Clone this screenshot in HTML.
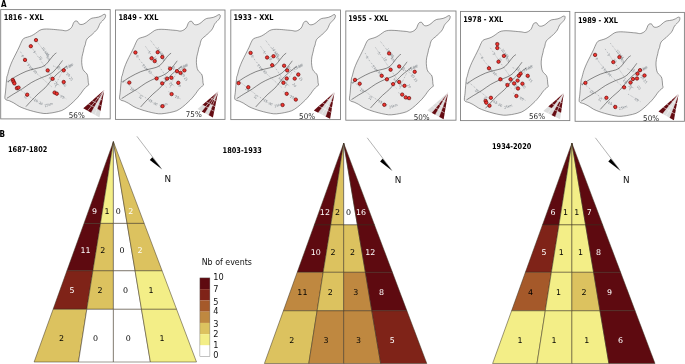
<!DOCTYPE html>
<html lang="en"><head><meta charset="utf-8"><title>Figure</title>
<style>html,body{margin:0;padding:0;background:#fff}svg{display:block}text{font-family:"DejaVu Sans Condensed","DejaVu Sans","Liberation Sans",sans-serif}.n{font-family:"DejaVu Sans","Liberation Sans",sans-serif}.t{font-size:3.4px;fill:#7d848a}</style></head><body>
<svg width="685" height="364" viewBox="0 0 685 364">
<rect width="685" height="364" fill="#fff"/>
<defs>
<g id="map">
<path d="M105.1,14.4C104.7,14.2 104.1,14.3 103.4,14.6C102.8,14.9 102,15.6 101.2,16C100.4,16.4 99.5,16.8 98.5,17.1C97.5,17.4 96.3,17.5 95.2,17.7C94.1,17.9 92.9,17.8 91.9,18.2C90.9,18.6 90,19.2 89.1,19.9C88.2,20.6 87.3,21.6 86.4,22.3C85.5,23 84.5,23.6 83.6,24C82.7,24.4 81.7,24.6 80.9,24.5C80.1,24.4 79.5,24.2 78.9,23.7C78.4,23.2 78,21.9 77.6,21.5C77.2,21.1 76.8,21 76.3,21C75.8,21 75.3,20.9 74.8,21.3C74.3,21.7 73.9,22.3 73.4,23.2C73,24.1 72.6,25.6 72.1,26.5C71.6,27.4 71.1,28.1 70.4,28.7C69.7,29.3 68.6,29.9 67.7,30.3C66.8,30.7 66,30.8 65.2,30.8C64.4,30.8 64,30.5 62.7,30.3C61.5,30.1 59.9,30 57.7,29.8C55.5,29.6 51.8,29.2 49.5,29.1C47.2,29 45.6,28.9 44,29.1C42.4,29.3 41.3,29.5 39.9,30.2C38.5,30.9 37.1,32.3 35.7,33.2C34.3,34.1 33,35.1 31.6,35.7C30.2,36.4 28.8,36.7 27.5,37.1C26.2,37.5 24.9,37.7 24,38.3C23.1,38.9 22.8,39.3 22,40.8C21.2,42.2 20.2,44.8 19.2,47C18.2,49.2 16.9,51.6 15.8,53.9C14.7,56.2 13.4,58.4 12.4,60.7C11.4,63 10.4,65.2 9.6,67.6C8.8,70 8,73.5 7.6,75C7.1,76.5 7.1,75.5 6.9,76.9C6.7,78.4 6.4,81.2 6.2,83.7C6,86.2 5.7,89.5 5.5,92C5.3,94.5 4.4,97.4 5.1,98.9C5.8,100.4 8.2,100.2 9.6,100.9C11,101.6 12.1,102 13.7,102.9C15.3,103.8 17.4,105.4 19.2,106.4C21,107.4 22.9,108 24.7,108.7C26.5,109.4 28.1,109.9 30.2,110.5C32.3,111.1 34.8,111.8 37.1,112.3C39.4,112.8 41.9,113.3 43.9,113.5C45.9,113.7 47.6,113.4 49.4,113.2C51.2,113 52.8,112.8 54.9,112.3C57,111.8 59.7,111.4 61.8,110.5C63.9,109.6 65.8,108.3 67.7,106.8C69.7,105.3 71.9,103.2 73.5,101.7C75.1,100.2 76,99.3 77.3,97.9C78.6,96.5 80.1,94.5 81.2,93.1C82.3,91.6 83,90.3 84,89.2C85,88.1 86.1,87 86.9,86.3C87.7,85.6 88.6,85.4 88.8,84.8C89,84.2 88.4,83.7 88.3,82.5C88.2,81.3 88.1,79.2 87.9,77.7C87.7,76.2 87.6,74.9 86.9,73.8C86.2,72.7 84.7,72 84,71C83.3,70 82.9,69.5 82.5,68.1C82.1,66.6 81.8,64.2 81.7,62.3C81.6,60.4 81.8,58.4 82.1,56.5C82.4,54.6 83.2,52.3 83.5,50.8C83.8,49.3 83.9,48.4 84.2,47.4C84.5,46.4 85,45.5 85.3,44.6C85.6,43.7 85.5,42.8 85.8,41.9C86.1,41 86.4,39.9 86.9,39.1C87.5,38.3 88.3,37.6 89.1,36.9C89.9,36.2 91,35.5 91.9,34.7C92.8,33.9 93.8,32.8 94.6,32C95.4,31.2 96.1,30.6 96.8,29.8C97.5,29 98,27.9 98.5,27C99,26.1 99.1,25.1 99.6,24.3C100,23.5 100.6,22.8 101.2,22.1C101.8,21.4 102.8,20.6 103.4,19.9C104.1,19.2 104.7,18.4 105.1,17.7C105.5,17 105.6,16.1 105.6,15.5C105.6,14.9 105.5,14.6 105.1,14.4Z" fill="#e9e9e9" stroke="#454545" stroke-width="0.55" stroke-linejoin="round"/>
<polyline points="36,40.3 43,49.5 50.2,59.1" fill="none" stroke="#8f959b" stroke-width="0.55" stroke-dasharray="1.4 1 0.5 1"/>
<polyline points="30.8,46.1 43.4,64.6 47.6,70.6 52.8,78.4 59.7,86.1" fill="none" stroke="#8f959b" stroke-width="0.55" stroke-dasharray="1.4 1 0.5 1"/>
<polyline points="20.5,51.7 25.1,59.9 36.6,73.3 44,80 51.9,87" fill="none" stroke="#8f959b" stroke-width="0.55" stroke-dasharray="1.4 1 0.5 1"/>
<polyline points="8.7,80.1 18,88 26.8,94.8 41.5,104.3" fill="none" stroke="#8f959b" stroke-width="0.55" stroke-dasharray="1.4 1 0.5 1"/>
<polyline points="53.1,65.9 58,68 64,70.6 70,75" fill="none" stroke="#8f959b" stroke-width="0.55" stroke-dasharray="1.4 1 0.5 1"/>
<polyline points="53.7,91.3 60,95 66.6,99.1" fill="none" stroke="#8f959b" stroke-width="0.55" stroke-dasharray="1.4 1 0.5 1"/>
<polyline points="62,72 57,82 55,88" fill="none" stroke="#8f959b" stroke-width="0.55" stroke-dasharray="1.4 1 0.5 1"/>
<text class="t" transform="translate(41.5,48) rotate(55)">10 km</text>
<text class="t" transform="translate(45.5,53.5) rotate(55)">15</text>
<text class="t" transform="translate(38.5,57) rotate(55)">10</text>
<text class="t" transform="translate(27,65) rotate(50)">5 km</text>
<text class="t" transform="translate(33,71) rotate(48)">10</text>
<text class="t" transform="translate(45,107.2) rotate(-18)">25km</text>
<text class="t" transform="translate(26,99) rotate(-60)">25</text>
<text class="t" transform="translate(38.5,103.6) rotate(30)">20</text>
<text class="t" transform="translate(64.5,70) rotate(-25)">15 km</text>
<text class="t" transform="translate(66,74.5) rotate(40)">20</text>
<text class="t" transform="translate(58.5,70) rotate(-55)">10</text>
<text class="t" transform="translate(60,97) rotate(30)">25</text>
<text class="t" transform="translate(54,83) rotate(60)">15</text>
<text class="t" transform="translate(48.5,78) rotate(50)">km</text>
<text class="t" transform="translate(8,83) rotate(-50)">5</text>
<text class="t" transform="translate(67,68.5) rotate(-30)">5 km</text>
<text class="t" transform="translate(69,78) rotate(50)">25</text>
<text class="t" transform="translate(62.5,84) rotate(55)">20</text>
<text class="t" transform="translate(46,57) rotate(55)">km</text>
<text class="t" transform="translate(33,52) rotate(52)">5</text>
<text class="t" transform="translate(21,56) rotate(55)">0</text>
<text class="t" transform="translate(15,89) rotate(35)">10</text>
<text class="t" transform="translate(33.5,100.5) rotate(32)">15</text>
<path d="M7.8,81.8C9.1,80.9 12.6,78.3 15.6,76.6C18.6,74.9 22.8,72.7 26,71.4C29.2,70.1 32,69.5 34.6,68.8C37.2,68.1 39.6,67.8 41.5,67.1C43.4,66.4 44.4,65.8 45.9,64.5C47.4,63.2 48.9,60.9 50.2,59.3C51.5,57.7 52.7,56.1 53.7,55C54.7,53.9 56,53.2 56.4,52.9" fill="none" stroke="#1e1e1e" stroke-width="0.5"/>
<path d="M6.9,98.3C8.1,97.6 11.2,95.5 13.8,93.9C16.4,92.3 19.6,90.6 22.5,88.7C25.4,86.8 28.3,84.4 31.2,82.7C34.1,81 36.9,79.7 39.8,78.4C42.7,77.1 46.2,76.1 48.5,74.9C50.8,73.7 52,73 53.7,71.4C55.4,69.8 57.3,67.2 58.8,65.4C60.3,63.6 61.9,61.3 62.5,60.5" fill="none" stroke="#1e1e1e" stroke-width="0.5"/>
<path d="M26,106.6C26.9,105.6 29.2,103 31.2,100.9C33.2,98.8 35.8,96.1 38.1,93.9C40.4,91.7 43.1,89.8 45,87.9C46.9,86 48,84.3 49.3,82.7C50.6,81.1 51.5,79.9 52.8,78.4C54.1,77 55.5,75.5 57.1,74C58.7,72.5 60.7,71 62.3,69.7C63.9,68.4 65.9,66.8 66.6,66.2" fill="none" stroke="#1e1e1e" stroke-width="0.5"/>
</g>
</defs>
<text x="0.9" y="6.8" font-size="8" font-weight="bold" fill="#000">A</text>
<text x="-0.4" y="136.7" font-size="8" font-weight="bold" fill="#000">B</text>
<g transform="translate(0,0)">
<rect x="0.7" y="9.6" width="109.5" height="109.3" fill="#fff" stroke="#808080" stroke-width="0.9"/>
<use href="#map"/>
<circle cx="25" cy="59.9" r="1.7" fill="#f2352f" stroke="#650909" stroke-width="0.7"/>
<circle cx="47.7" cy="70.4" r="1.7" fill="#f2352f" stroke="#650909" stroke-width="0.7"/>
<circle cx="63.7" cy="70.3" r="1.7" fill="#f2352f" stroke="#650909" stroke-width="0.7"/>
<circle cx="52.6" cy="78.8" r="1.7" fill="#f2352f" stroke="#650909" stroke-width="0.7"/>
<circle cx="63.7" cy="82" r="1.7" fill="#f2352f" stroke="#650909" stroke-width="0.7"/>
<circle cx="12.8" cy="79.9" r="1.7" fill="#f2352f" stroke="#650909" stroke-width="0.7"/>
<circle cx="13.6" cy="81.6" r="1.7" fill="#f2352f" stroke="#650909" stroke-width="0.7"/>
<circle cx="14.4" cy="83.4" r="1.7" fill="#f2352f" stroke="#650909" stroke-width="0.7"/>
<circle cx="16.9" cy="88.1" r="1.7" fill="#f2352f" stroke="#650909" stroke-width="0.7"/>
<circle cx="18.5" cy="87.6" r="1.7" fill="#f2352f" stroke="#650909" stroke-width="0.7"/>
<circle cx="27.2" cy="94.7" r="1.7" fill="#f2352f" stroke="#650909" stroke-width="0.7"/>
<circle cx="54.6" cy="92.6" r="1.7" fill="#f2352f" stroke="#650909" stroke-width="0.7"/>
<circle cx="56.8" cy="93.7" r="1.7" fill="#f2352f" stroke="#650909" stroke-width="0.7"/>
<circle cx="36" cy="40.1" r="1.7" fill="#f2352f" stroke="#650909" stroke-width="0.7"/>
<circle cx="30.8" cy="46.2" r="1.7" fill="#f2352f" stroke="#650909" stroke-width="0.7"/>
<text x="3.7" y="20.2" font-size="7.95" font-weight="bold" fill="#000" textLength="40" lengthAdjust="spacingAndGlyphs">1816 - XXL</text>
</g>
<text class="n" x="68.8" y="117.8" font-size="7.9" fill="#2a2a2a" textLength="16" lengthAdjust="spacingAndGlyphs">56%</text>
<polygon points="104.2,90.1 83.3,108.2 99.5,117.4" fill="#dcdcdc"/>
<polygon points="104.2,90.1 104.2,90.1 98.1,97.7 96.4,96.8" fill="#650c12"/>
<polygon points="104.2,90.1 104.2,90.1 99.4,98.5 98.1,97.7" fill="#650c12"/>
<polygon points="104.2,90.1 104.2,90.1 102.5,100.2 100.7,99.3" fill="#650c12"/>
<polygon points="96.4,96.8 98.1,97.7 94.5,102.2 92.0,100.7" fill="#650c12"/>
<polygon points="98.1,97.7 99.4,98.5 96.6,103.3 94.5,102.2" fill="#650c12"/>
<polygon points="100.7,99.3 102.5,100.2 101.4,106.1 98.7,104.6" fill="#650c12"/>
<polygon points="92.0,100.7 94.5,102.2 91.7,105.8 88.3,103.9" fill="#650c12"/>
<polygon points="94.5,102.2 96.6,103.3 94.3,107.3 91.7,105.8" fill="#650c12"/>
<polygon points="98.7,104.6 101.4,106.1 100.6,110.9 97.1,108.9" fill="#650c12"/>
<polygon points="88.3,103.9 91.7,105.8 87.7,110.7 83.3,108.2" fill="#650c12"/>
<polygon points="91.7,105.8 94.3,107.3 91.2,112.7 87.7,110.7" fill="#650c12"/>
<path d="M96.4,96.8L102.5,100.2M92.0,100.7L101.4,106.1M88.3,103.9L100.6,110.9M104.2,90.1L87.7,110.7M104.2,90.1L91.2,112.7M104.2,90.1L94.9,114.8" stroke="#fff" stroke-width="0.5" fill="none" opacity="0.85"/>
<g transform="translate(114.7,0.3)">
<rect x="0.8" y="9.7" width="109.5" height="109.4" fill="#fff" stroke="#808080" stroke-width="0.9"/>
<use href="#map"/>
<circle cx="20.7" cy="52.2" r="1.7" fill="#f2352f" stroke="#650909" stroke-width="0.7"/>
<circle cx="43" cy="51.9" r="1.7" fill="#f2352f" stroke="#650909" stroke-width="0.7"/>
<circle cx="47.6" cy="56.7" r="1.7" fill="#f2352f" stroke="#650909" stroke-width="0.7"/>
<circle cx="36.9" cy="58" r="1.7" fill="#f2352f" stroke="#650909" stroke-width="0.7"/>
<circle cx="40" cy="60.8" r="1.7" fill="#f2352f" stroke="#650909" stroke-width="0.7"/>
<circle cx="55.4" cy="68.3" r="1.7" fill="#f2352f" stroke="#650909" stroke-width="0.7"/>
<circle cx="62.3" cy="70.9" r="1.7" fill="#f2352f" stroke="#650909" stroke-width="0.7"/>
<circle cx="65.8" cy="72.6" r="1.7" fill="#f2352f" stroke="#650909" stroke-width="0.7"/>
<circle cx="69.7" cy="70.1" r="1.7" fill="#f2352f" stroke="#650909" stroke-width="0.7"/>
<circle cx="41.9" cy="78.2" r="1.7" fill="#f2352f" stroke="#650909" stroke-width="0.7"/>
<circle cx="52.4" cy="78.3" r="1.7" fill="#f2352f" stroke="#650909" stroke-width="0.7"/>
<circle cx="56.7" cy="77.5" r="1.7" fill="#f2352f" stroke="#650909" stroke-width="0.7"/>
<circle cx="47.5" cy="83.1" r="1.7" fill="#f2352f" stroke="#650909" stroke-width="0.7"/>
<circle cx="63.6" cy="82.5" r="1.7" fill="#f2352f" stroke="#650909" stroke-width="0.7"/>
<circle cx="14.6" cy="82.3" r="1.7" fill="#f2352f" stroke="#650909" stroke-width="0.7"/>
<circle cx="56.9" cy="93.8" r="1.7" fill="#f2352f" stroke="#650909" stroke-width="0.7"/>
<circle cx="47.8" cy="105.9" r="1.7" fill="#f2352f" stroke="#650909" stroke-width="0.7"/>
<text x="3.7" y="20.2" font-size="7.95" font-weight="bold" fill="#000" textLength="40" lengthAdjust="spacingAndGlyphs">1849 - XXL</text>
</g>
<text class="n" x="185.8" y="117" font-size="7.9" fill="#2a2a2a" textLength="16" lengthAdjust="spacingAndGlyphs">75%</text>
<polygon points="218.2,91.5 197.5,109.1 212.9,117.5" fill="#dcdcdc"/>
<polygon points="218.2,91.5 218.2,91.5 212.1,98.9 210.5,98.0" fill="#650c12"/>
<polygon points="218.2,91.5 218.2,91.5 213.3,99.6 212.1,98.9" fill="#650c12"/>
<polygon points="218.2,91.5 218.2,91.5 216.2,101.1 214.6,100.3" fill="#650c12"/>
<polygon points="210.5,98.0 212.1,98.9 208.5,103.2 206.1,101.8" fill="#650c12"/>
<polygon points="212.1,98.9 213.3,99.6 210.5,104.2 208.5,103.2" fill="#650c12"/>
<polygon points="213.3,99.6 214.6,100.3 212.5,105.3 210.5,104.2" fill="#650c12"/>
<polygon points="214.6,100.3 216.2,101.1 215.1,106.7 212.5,105.3" fill="#650c12"/>
<polygon points="206.1,101.8 208.5,103.2 205.6,106.6 202.4,104.9" fill="#650c12"/>
<polygon points="208.5,103.2 210.5,104.2 208.2,108.0 205.6,106.6" fill="#650c12"/>
<polygon points="212.5,105.3 215.1,106.7 214.2,111.3 210.8,109.5" fill="#650c12"/>
<polygon points="205.6,106.6 208.2,108.0 205.0,113.2 201.7,111.4" fill="#650c12"/>
<polygon points="210.8,109.5 214.2,111.3 212.9,117.5 208.5,115.1" fill="#650c12"/>
<path d="M210.5,98.0L216.2,101.1M206.1,101.8L215.1,106.7M202.4,104.9L214.2,111.3M218.2,91.5L201.7,111.4M218.2,91.5L205.0,113.2M218.2,91.5L208.5,115.1" stroke="#fff" stroke-width="0.5" fill="none" opacity="0.85"/>
<g transform="translate(229.8,0.3)">
<rect x="1" y="9.7" width="109.7" height="109.6" fill="#fff" stroke="#808080" stroke-width="0.9"/>
<use href="#map"/>
<circle cx="20.8" cy="52.6" r="1.7" fill="#f2352f" stroke="#650909" stroke-width="0.7"/>
<circle cx="37.3" cy="57.2" r="1.7" fill="#f2352f" stroke="#650909" stroke-width="0.7"/>
<circle cx="43.7" cy="55.9" r="1.7" fill="#f2352f" stroke="#650909" stroke-width="0.7"/>
<circle cx="42.4" cy="64.9" r="1.7" fill="#f2352f" stroke="#650909" stroke-width="0.7"/>
<circle cx="54.3" cy="65.4" r="1.7" fill="#f2352f" stroke="#650909" stroke-width="0.7"/>
<circle cx="57.4" cy="70.1" r="1.7" fill="#f2352f" stroke="#650909" stroke-width="0.7"/>
<circle cx="68.5" cy="74.2" r="1.7" fill="#f2352f" stroke="#650909" stroke-width="0.7"/>
<circle cx="56.9" cy="78.2" r="1.7" fill="#f2352f" stroke="#650909" stroke-width="0.7"/>
<circle cx="64.9" cy="78.3" r="1.7" fill="#f2352f" stroke="#650909" stroke-width="0.7"/>
<circle cx="53.6" cy="82.5" r="1.7" fill="#f2352f" stroke="#650909" stroke-width="0.7"/>
<circle cx="8.8" cy="82.8" r="1.7" fill="#f2352f" stroke="#650909" stroke-width="0.7"/>
<circle cx="18.5" cy="86.9" r="1.7" fill="#f2352f" stroke="#650909" stroke-width="0.7"/>
<circle cx="56.9" cy="93.5" r="1.7" fill="#f2352f" stroke="#650909" stroke-width="0.7"/>
<circle cx="66" cy="99.3" r="1.7" fill="#f2352f" stroke="#650909" stroke-width="0.7"/>
<circle cx="52.8" cy="104.7" r="1.7" fill="#f2352f" stroke="#650909" stroke-width="0.7"/>
<text x="3.7" y="20.2" font-size="7.95" font-weight="bold" fill="#000" textLength="40" lengthAdjust="spacingAndGlyphs">1933 - XXL</text>
</g>
<text class="n" x="299.1" y="118.9" font-size="7.9" fill="#2a2a2a" textLength="16" lengthAdjust="spacingAndGlyphs">50%</text>
<polygon points="334.5,92.2 313.9,110.4 330.1,118.8" fill="#dcdcdc"/>
<polygon points="334.5,92.2 334.5,92.2 328.5,99.8 326.9,99.0" fill="#650c12"/>
<polygon points="334.5,92.2 334.5,92.2 332.9,102.1 331.2,101.2" fill="#650c12"/>
<polygon points="326.9,99.0 328.5,99.8 325.0,104.2 322.4,102.9" fill="#650c12"/>
<polygon points="331.2,101.2 332.9,102.1 331.9,107.8 329.2,106.4" fill="#650c12"/>
<polygon points="322.4,102.9 325.0,104.2 322.2,107.8 318.8,106.1" fill="#650c12"/>
<polygon points="329.2,106.4 331.9,107.8 331.2,112.4 327.7,110.6" fill="#650c12"/>
<polygon points="318.8,106.1 322.2,107.8 318.3,112.7 313.9,110.4" fill="#650c12"/>
<polygon points="327.7,110.6 331.2,112.4 330.1,118.8 325.5,116.4" fill="#650c12"/>
<path d="M326.9,99.0L332.9,102.1M322.4,102.9L331.9,107.8M318.8,106.1L331.2,112.4M334.5,92.2L318.3,112.7M334.5,92.2L321.8,114.5M334.5,92.2L325.5,116.4" stroke="#fff" stroke-width="0.5" fill="none" opacity="0.85"/>
<g transform="translate(344.6,1.3)">
<rect x="1.2" y="9.7" width="110.2" height="109.2" fill="#fff" stroke="#808080" stroke-width="0.9"/>
<use href="#map"/>
<circle cx="44.5" cy="52.1" r="1.7" fill="#f2352f" stroke="#650909" stroke-width="0.7"/>
<circle cx="54.6" cy="65.1" r="1.7" fill="#f2352f" stroke="#650909" stroke-width="0.7"/>
<circle cx="46" cy="68.4" r="1.7" fill="#f2352f" stroke="#650909" stroke-width="0.7"/>
<circle cx="70.1" cy="70.5" r="1.7" fill="#f2352f" stroke="#650909" stroke-width="0.7"/>
<circle cx="37.1" cy="74.5" r="1.7" fill="#f2352f" stroke="#650909" stroke-width="0.7"/>
<circle cx="42.3" cy="78" r="1.7" fill="#f2352f" stroke="#650909" stroke-width="0.7"/>
<circle cx="54.6" cy="80.7" r="1.7" fill="#f2352f" stroke="#650909" stroke-width="0.7"/>
<circle cx="48.5" cy="82.8" r="1.7" fill="#f2352f" stroke="#650909" stroke-width="0.7"/>
<circle cx="59.9" cy="84.5" r="1.7" fill="#f2352f" stroke="#650909" stroke-width="0.7"/>
<circle cx="10.4" cy="78.6" r="1.7" fill="#f2352f" stroke="#650909" stroke-width="0.7"/>
<circle cx="15.1" cy="82.4" r="1.7" fill="#f2352f" stroke="#650909" stroke-width="0.7"/>
<circle cx="57.6" cy="93.3" r="1.7" fill="#f2352f" stroke="#650909" stroke-width="0.7"/>
<circle cx="61.1" cy="96.1" r="1.7" fill="#f2352f" stroke="#650909" stroke-width="0.7"/>
<circle cx="64.5" cy="96.8" r="1.7" fill="#f2352f" stroke="#650909" stroke-width="0.7"/>
<circle cx="39.7" cy="103.5" r="1.7" fill="#f2352f" stroke="#650909" stroke-width="0.7"/>
<text x="3.7" y="20.2" font-size="7.95" font-weight="bold" fill="#000" textLength="40" lengthAdjust="spacingAndGlyphs">1955 - XXL</text>
</g>
<text class="n" x="413.7" y="119.5" font-size="7.9" fill="#2a2a2a" textLength="16" lengthAdjust="spacingAndGlyphs">50%</text>
<polygon points="448.1,92.5 427.3,110.4 443.6,119.3" fill="#dcdcdc"/>
<polygon points="448.1,92.5 448.1,92.5 443.3,100.8 442.0,100.0" fill="#650c12"/>
<polygon points="448.1,92.5 448.1,92.5 446.4,102.4 444.7,101.5" fill="#650c12"/>
<polygon points="442.0,100.0 443.3,100.8 440.6,105.5 438.5,104.4" fill="#650c12"/>
<polygon points="444.7,101.5 446.4,102.4 445.5,108.2 442.8,106.7" fill="#650c12"/>
<polygon points="438.5,104.4 440.6,105.5 438.3,109.4 435.7,108.0" fill="#650c12"/>
<polygon points="442.8,106.7 445.5,108.2 444.7,112.9 441.2,111.0" fill="#650c12"/>
<polygon points="435.7,108.0 438.3,109.4 435.3,114.7 431.7,112.8" fill="#650c12"/>
<polygon points="441.2,111.0 444.7,112.9 443.6,119.3 439.0,116.8" fill="#650c12"/>
<path d="M440.4,99.1L446.4,102.4M435.9,103.0L445.5,108.2M432.3,106.1L444.7,112.9M448.1,92.5L431.7,112.8M448.1,92.5L435.3,114.7M448.1,92.5L439.0,116.8" stroke="#fff" stroke-width="0.5" fill="none" opacity="0.85"/>
<g transform="translate(459.5,1.7)">
<rect x="1" y="9.7" width="109.3" height="109.2" fill="#fff" stroke="#808080" stroke-width="0.9"/>
<use href="#map"/>
<circle cx="37.8" cy="42.4" r="1.7" fill="#f2352f" stroke="#650909" stroke-width="0.7"/>
<circle cx="37.8" cy="46.3" r="1.7" fill="#f2352f" stroke="#650909" stroke-width="0.7"/>
<circle cx="44.4" cy="54.2" r="1.7" fill="#f2352f" stroke="#650909" stroke-width="0.7"/>
<circle cx="39" cy="60" r="1.7" fill="#f2352f" stroke="#650909" stroke-width="0.7"/>
<circle cx="29.5" cy="66.6" r="1.7" fill="#f2352f" stroke="#650909" stroke-width="0.7"/>
<circle cx="61.1" cy="72" r="1.7" fill="#f2352f" stroke="#650909" stroke-width="0.7"/>
<circle cx="59.4" cy="74.1" r="1.7" fill="#f2352f" stroke="#650909" stroke-width="0.7"/>
<circle cx="68.2" cy="74.1" r="1.7" fill="#f2352f" stroke="#650909" stroke-width="0.7"/>
<circle cx="40.9" cy="77.6" r="1.7" fill="#f2352f" stroke="#650909" stroke-width="0.7"/>
<circle cx="51.1" cy="77.6" r="1.7" fill="#f2352f" stroke="#650909" stroke-width="0.7"/>
<circle cx="58.1" cy="78.9" r="1.7" fill="#f2352f" stroke="#650909" stroke-width="0.7"/>
<circle cx="54.6" cy="81.7" r="1.7" fill="#f2352f" stroke="#650909" stroke-width="0.7"/>
<circle cx="62.9" cy="82" r="1.7" fill="#f2352f" stroke="#650909" stroke-width="0.7"/>
<circle cx="47.9" cy="83.3" r="1.7" fill="#f2352f" stroke="#650909" stroke-width="0.7"/>
<circle cx="58.5" cy="86.8" r="1.7" fill="#f2352f" stroke="#650909" stroke-width="0.7"/>
<circle cx="56.9" cy="94.3" r="1.7" fill="#f2352f" stroke="#650909" stroke-width="0.7"/>
<circle cx="31.4" cy="96.1" r="1.7" fill="#f2352f" stroke="#650909" stroke-width="0.7"/>
<circle cx="26.1" cy="99.2" r="1.7" fill="#f2352f" stroke="#650909" stroke-width="0.7"/>
<circle cx="26.8" cy="101" r="1.7" fill="#f2352f" stroke="#650909" stroke-width="0.7"/>
<circle cx="30" cy="104" r="1.7" fill="#f2352f" stroke="#650909" stroke-width="0.7"/>
<text x="3.7" y="20.2" font-size="7.95" font-weight="bold" fill="#000" textLength="40" lengthAdjust="spacingAndGlyphs">1978 - XXL</text>
</g>
<text class="n" x="529" y="119" font-size="7.9" fill="#2a2a2a" textLength="16" lengthAdjust="spacingAndGlyphs">56%</text>
<polygon points="563.8,93.1 543.3,110.9 560.1,119.3" fill="#dcdcdc"/>
<polygon points="563.8,93.1 563.8,93.1 557.9,100.6 556.2,99.7" fill="#650c12"/>
<polygon points="563.8,93.1 563.8,93.1 562.4,102.8 560.7,101.9" fill="#650c12"/>
<polygon points="556.2,99.7 557.9,100.6 554.5,104.9 551.8,103.5" fill="#650c12"/>
<polygon points="559.2,101.2 560.7,101.9 558.8,107.1 556.6,105.9" fill="#650c12"/>
<polygon points="560.7,101.9 562.4,102.8 561.6,108.5 558.8,107.1" fill="#650c12"/>
<polygon points="551.8,103.5 554.5,104.9 551.7,108.4 548.2,106.6" fill="#650c12"/>
<polygon points="556.6,105.9 558.8,107.1 557.4,111.2 554.4,109.8" fill="#650c12"/>
<polygon points="558.8,107.1 561.6,108.5 561.0,113.0 557.4,111.2" fill="#650c12"/>
<polygon points="554.4,109.8 557.4,111.2 555.3,116.9 551.5,115.0" fill="#650c12"/>
<path d="M556.2,99.7L562.4,102.8M551.8,103.5L561.6,108.5M548.2,106.6L561.0,113.0M563.8,93.1L547.9,113.2M563.8,93.1L551.5,115.0M563.8,93.1L555.3,116.9" stroke="#fff" stroke-width="0.5" fill="none" opacity="0.85"/>
<g transform="translate(574.3,2.8)">
<rect x="0.8" y="9.6" width="109.3" height="108.9" fill="#fff" stroke="#808080" stroke-width="0.9"/>
<use href="#map"/>
<circle cx="20.8" cy="52.1" r="1.7" fill="#f2352f" stroke="#650909" stroke-width="0.7"/>
<circle cx="45.1" cy="54.3" r="1.7" fill="#f2352f" stroke="#650909" stroke-width="0.7"/>
<circle cx="39" cy="59.3" r="1.7" fill="#f2352f" stroke="#650909" stroke-width="0.7"/>
<circle cx="65.7" cy="67.4" r="1.7" fill="#f2352f" stroke="#650909" stroke-width="0.7"/>
<circle cx="63.2" cy="70.9" r="1.7" fill="#f2352f" stroke="#650909" stroke-width="0.7"/>
<circle cx="70.2" cy="72.7" r="1.7" fill="#f2352f" stroke="#650909" stroke-width="0.7"/>
<circle cx="58.6" cy="76.2" r="1.7" fill="#f2352f" stroke="#650909" stroke-width="0.7"/>
<circle cx="62.7" cy="75.7" r="1.7" fill="#f2352f" stroke="#650909" stroke-width="0.7"/>
<circle cx="56.2" cy="79.7" r="1.7" fill="#f2352f" stroke="#650909" stroke-width="0.7"/>
<circle cx="49.8" cy="84.5" r="1.7" fill="#f2352f" stroke="#650909" stroke-width="0.7"/>
<circle cx="11.1" cy="80.1" r="1.7" fill="#f2352f" stroke="#650909" stroke-width="0.7"/>
<circle cx="32.1" cy="95" r="1.7" fill="#f2352f" stroke="#650909" stroke-width="0.7"/>
<circle cx="41" cy="104.2" r="1.7" fill="#f2352f" stroke="#650909" stroke-width="0.7"/>
<text x="3.7" y="20.2" font-size="7.95" font-weight="bold" fill="#000" textLength="40" lengthAdjust="spacingAndGlyphs">1989 - XXL</text>
</g>
<text class="n" x="643.1" y="120.8" font-size="7.9" fill="#2a2a2a" textLength="16" lengthAdjust="spacingAndGlyphs">50%</text>
<polygon points="678.6,94.1 658.5,111.4 673.9,120.2" fill="#dcdcdc"/>
<polygon points="678.6,94.1 678.6,94.1 672.7,101.4 671.1,100.5" fill="#650c12"/>
<polygon points="678.6,94.1 678.6,94.1 676.9,103.8 675.2,102.9" fill="#650c12"/>
<polygon points="671.1,100.5 672.7,101.4 669.3,105.6 666.8,104.2" fill="#650c12"/>
<polygon points="675.2,102.9 676.9,103.8 675.8,109.4 673.3,107.9" fill="#650c12"/>
<polygon points="666.8,104.2 669.3,105.6 666.5,109.1 663.3,107.3" fill="#650c12"/>
<polygon points="673.3,107.9 675.8,109.4 675.0,114.0 671.7,112.1" fill="#650c12"/>
<polygon points="663.3,107.3 666.5,109.1 662.7,113.8 658.5,111.4" fill="#650c12"/>
<polygon points="671.7,112.1 675.0,114.0 673.9,120.2 669.5,117.7" fill="#650c12"/>
<path d="M671.1,100.5L676.9,103.8M666.8,104.2L675.8,109.4M663.3,107.3L675.0,114.0M678.6,94.1L662.7,113.8M678.6,94.1L666.0,115.7M678.6,94.1L669.5,117.7" stroke="#fff" stroke-width="0.5" fill="none" opacity="0.85"/>
<g transform="translate(0,0)">
<polygon points="113.4,141.7 113.4,141.7 100.5,223.4 84.0,223.4" fill="#5e0a10" stroke="#3a3020" stroke-width="0.5" stroke-linejoin="round"/>
<polygon points="113.4,141.7 113.4,141.7 113.4,223.4 100.5,223.4" fill="#f3ee87" stroke="#3a3020" stroke-width="0.5" stroke-linejoin="round"/>
<polygon points="113.4,141.7 113.4,141.7 127.1,223.4 113.4,223.4" fill="#ffffff" stroke="#3a3020" stroke-width="0.5" stroke-linejoin="round"/>
<polygon points="113.4,141.7 113.4,141.7 144.2,223.4 127.1,223.4" fill="#dcc25f" stroke="#3a3020" stroke-width="0.5" stroke-linejoin="round"/>
<polygon points="84.0,223.4 100.5,223.4 92.9,270.8 66.9,270.8" fill="#5e0a10" stroke="#3a3020" stroke-width="0.5" stroke-linejoin="round"/>
<polygon points="100.5,223.4 113.4,223.4 113.4,270.8 92.9,270.8" fill="#dcc25f" stroke="#3a3020" stroke-width="0.5" stroke-linejoin="round"/>
<polygon points="113.4,223.4 127.1,223.4 135.1,270.8 113.4,270.8" fill="#ffffff" stroke="#3a3020" stroke-width="0.5" stroke-linejoin="round"/>
<polygon points="127.1,223.4 144.2,223.4 162.1,270.8 135.1,270.8" fill="#dcc25f" stroke="#3a3020" stroke-width="0.5" stroke-linejoin="round"/>
<polygon points="66.9,270.8 92.9,270.8 86.8,309.3 53.1,309.3" fill="#7f2318" stroke="#3a3020" stroke-width="0.5" stroke-linejoin="round"/>
<polygon points="92.9,270.8 113.4,270.8 113.4,309.3 86.8,309.3" fill="#dcc25f" stroke="#3a3020" stroke-width="0.5" stroke-linejoin="round"/>
<polygon points="113.4,270.8 135.1,270.8 141.5,309.3 113.4,309.3" fill="#ffffff" stroke="#3a3020" stroke-width="0.5" stroke-linejoin="round"/>
<polygon points="135.1,270.8 162.1,270.8 176.6,309.3 141.5,309.3" fill="#f3ee87" stroke="#3a3020" stroke-width="0.5" stroke-linejoin="round"/>
<polygon points="53.1,309.3 86.8,309.3 78.5,362.0 34.1,362.0" fill="#dcc25f" stroke="#3a3020" stroke-width="0.5" stroke-linejoin="round"/>
<polygon points="86.8,309.3 113.4,309.3 113.4,362.0 78.5,362.0" fill="#ffffff" stroke="#3a3020" stroke-width="0.5" stroke-linejoin="round"/>
<polygon points="113.4,309.3 141.5,309.3 150.4,362.0 113.4,362.0" fill="#ffffff" stroke="#3a3020" stroke-width="0.5" stroke-linejoin="round"/>
<polygon points="141.5,309.3 176.6,309.3 196.5,362.0 150.4,362.0" fill="#f3ee87" stroke="#3a3020" stroke-width="0.5" stroke-linejoin="round"/>
<text class="n" x="94.6" y="213.6" font-size="7.9" fill="#fff" text-anchor="middle">9</text>
<text class="n" x="107.1" y="213.6" font-size="7.9" fill="#000" text-anchor="middle">1</text>
<text class="n" x="118.3" y="213.6" font-size="7.9" fill="#000" text-anchor="middle">0</text>
<text class="n" x="130.8" y="213.6" font-size="7.9" fill="#fff" text-anchor="middle">2</text>
<text class="n" x="85.4" y="253.3" font-size="7.9" fill="#fff" text-anchor="middle">11</text>
<text class="n" x="102.7" y="253.3" font-size="7.9" fill="#000" text-anchor="middle">2</text>
<text class="n" x="122.1" y="253.3" font-size="7.9" fill="#000" text-anchor="middle">0</text>
<text class="n" x="139.9" y="253.3" font-size="7.9" fill="#fff" text-anchor="middle">2</text>
<text class="n" x="72.1" y="293.2" font-size="7.9" fill="#fff" text-anchor="middle">5</text>
<text class="n" x="100" y="293.2" font-size="7.9" fill="#000" text-anchor="middle">2</text>
<text class="n" x="125.5" y="293.2" font-size="7.9" fill="#000" text-anchor="middle">0</text>
<text class="n" x="151.1" y="293.2" font-size="7.9" fill="#000" text-anchor="middle">1</text>
<text class="n" x="61.5" y="341.2" font-size="7.9" fill="#000" text-anchor="middle">2</text>
<text class="n" x="95.6" y="341.2" font-size="7.9" fill="#000" text-anchor="middle">0</text>
<text class="n" x="128.3" y="341.2" font-size="7.9" fill="#000" text-anchor="middle">0</text>
<text class="n" x="162" y="341.2" font-size="7.9" fill="#000" text-anchor="middle">1</text>
<line x1="136.9" y1="136.3" x2="160" y2="166.7" stroke="#555" stroke-width="0.45"/>
<polygon points="162.2,169.6 152.3,157.2 149.8,160" fill="#000"/>
<text class="n" x="167.8" y="181.5" font-size="8.8" fill="#111" text-anchor="middle">N</text>
</g>
<text x="8" y="152" font-size="7.95" font-weight="bold" fill="#000" textLength="39.3" lengthAdjust="spacingAndGlyphs">1687-1802</text>
<g transform="translate(230.3,1.5)">
<polygon points="113.4,141.7 113.4,141.7 100.5,223.4 84.0,223.4" fill="#5e0a10" stroke="#3a3020" stroke-width="0.5" stroke-linejoin="round"/>
<polygon points="113.4,141.7 113.4,141.7 113.4,223.4 100.5,223.4" fill="#dcc25f" stroke="#3a3020" stroke-width="0.5" stroke-linejoin="round"/>
<polygon points="113.4,141.7 113.4,141.7 127.1,223.4 113.4,223.4" fill="#ffffff" stroke="#3a3020" stroke-width="0.5" stroke-linejoin="round"/>
<polygon points="113.4,141.7 113.4,141.7 144.2,223.4 127.1,223.4" fill="#5e0a10" stroke="#3a3020" stroke-width="0.5" stroke-linejoin="round"/>
<polygon points="84.0,223.4 100.5,223.4 92.9,270.8 66.9,270.8" fill="#5e0a10" stroke="#3a3020" stroke-width="0.5" stroke-linejoin="round"/>
<polygon points="100.5,223.4 113.4,223.4 113.4,270.8 92.9,270.8" fill="#dcc25f" stroke="#3a3020" stroke-width="0.5" stroke-linejoin="round"/>
<polygon points="113.4,223.4 127.1,223.4 135.1,270.8 113.4,270.8" fill="#dcc25f" stroke="#3a3020" stroke-width="0.5" stroke-linejoin="round"/>
<polygon points="127.1,223.4 144.2,223.4 162.1,270.8 135.1,270.8" fill="#5e0a10" stroke="#3a3020" stroke-width="0.5" stroke-linejoin="round"/>
<polygon points="66.9,270.8 92.9,270.8 86.8,309.3 53.1,309.3" fill="#bf8840" stroke="#3a3020" stroke-width="0.5" stroke-linejoin="round"/>
<polygon points="92.9,270.8 113.4,270.8 113.4,309.3 86.8,309.3" fill="#dcc25f" stroke="#3a3020" stroke-width="0.5" stroke-linejoin="round"/>
<polygon points="113.4,270.8 135.1,270.8 141.5,309.3 113.4,309.3" fill="#bf8840" stroke="#3a3020" stroke-width="0.5" stroke-linejoin="round"/>
<polygon points="135.1,270.8 162.1,270.8 176.6,309.3 141.5,309.3" fill="#5e0a10" stroke="#3a3020" stroke-width="0.5" stroke-linejoin="round"/>
<polygon points="53.1,309.3 86.8,309.3 78.5,362.0 34.1,362.0" fill="#dcc25f" stroke="#3a3020" stroke-width="0.5" stroke-linejoin="round"/>
<polygon points="86.8,309.3 113.4,309.3 113.4,362.0 78.5,362.0" fill="#bf8840" stroke="#3a3020" stroke-width="0.5" stroke-linejoin="round"/>
<polygon points="113.4,309.3 141.5,309.3 150.4,362.0 113.4,362.0" fill="#bf8840" stroke="#3a3020" stroke-width="0.5" stroke-linejoin="round"/>
<polygon points="141.5,309.3 176.6,309.3 196.5,362.0 150.4,362.0" fill="#7f2318" stroke="#3a3020" stroke-width="0.5" stroke-linejoin="round"/>
<text class="n" x="94.6" y="213.6" font-size="7.9" fill="#fff" text-anchor="middle">12</text>
<text class="n" x="107.1" y="213.6" font-size="7.9" fill="#000" text-anchor="middle">2</text>
<text class="n" x="118.3" y="213.6" font-size="7.9" fill="#000" text-anchor="middle">0</text>
<text class="n" x="130.8" y="213.6" font-size="7.9" fill="#fff" text-anchor="middle">16</text>
<text class="n" x="85.4" y="253.3" font-size="7.9" fill="#fff" text-anchor="middle">10</text>
<text class="n" x="102.7" y="253.3" font-size="7.9" fill="#000" text-anchor="middle">2</text>
<text class="n" x="122.1" y="253.3" font-size="7.9" fill="#000" text-anchor="middle">2</text>
<text class="n" x="139.9" y="253.3" font-size="7.9" fill="#fff" text-anchor="middle">12</text>
<text class="n" x="72.1" y="293.2" font-size="7.9" fill="#000" text-anchor="middle">11</text>
<text class="n" x="100" y="293.2" font-size="7.9" fill="#000" text-anchor="middle">2</text>
<text class="n" x="125.5" y="293.2" font-size="7.9" fill="#000" text-anchor="middle">3</text>
<text class="n" x="151.1" y="293.2" font-size="7.9" fill="#fff" text-anchor="middle">8</text>
<text class="n" x="61.5" y="341.2" font-size="7.9" fill="#000" text-anchor="middle">2</text>
<text class="n" x="95.6" y="341.2" font-size="7.9" fill="#000" text-anchor="middle">3</text>
<text class="n" x="128.3" y="341.2" font-size="7.9" fill="#000" text-anchor="middle">3</text>
<text class="n" x="162" y="341.2" font-size="7.9" fill="#fff" text-anchor="middle">5</text>
<line x1="136.9" y1="136.3" x2="160" y2="166.7" stroke="#555" stroke-width="0.45"/>
<polygon points="162.2,169.6 152.3,157.2 149.8,160" fill="#000"/>
<text class="n" x="167.8" y="181.5" font-size="8.8" fill="#111" text-anchor="middle">N</text>
</g>
<text x="222.6" y="153" font-size="7.95" font-weight="bold" fill="#000" textLength="39.3" lengthAdjust="spacingAndGlyphs">1803-1933</text>
<g transform="translate(458.5,1.5)">
<polygon points="113.4,141.7 113.4,141.7 100.5,223.4 84.0,223.4" fill="#5e0a10" stroke="#3a3020" stroke-width="0.5" stroke-linejoin="round"/>
<polygon points="113.4,141.7 113.4,141.7 113.4,223.4 100.5,223.4" fill="#f3ee87" stroke="#3a3020" stroke-width="0.5" stroke-linejoin="round"/>
<polygon points="113.4,141.7 113.4,141.7 127.1,223.4 113.4,223.4" fill="#f3ee87" stroke="#3a3020" stroke-width="0.5" stroke-linejoin="round"/>
<polygon points="113.4,141.7 113.4,141.7 144.2,223.4 127.1,223.4" fill="#5e0a10" stroke="#3a3020" stroke-width="0.5" stroke-linejoin="round"/>
<polygon points="84.0,223.4 100.5,223.4 92.9,270.8 66.9,270.8" fill="#7f2318" stroke="#3a3020" stroke-width="0.5" stroke-linejoin="round"/>
<polygon points="100.5,223.4 113.4,223.4 113.4,270.8 92.9,270.8" fill="#f3ee87" stroke="#3a3020" stroke-width="0.5" stroke-linejoin="round"/>
<polygon points="113.4,223.4 127.1,223.4 135.1,270.8 113.4,270.8" fill="#f3ee87" stroke="#3a3020" stroke-width="0.5" stroke-linejoin="round"/>
<polygon points="127.1,223.4 144.2,223.4 162.1,270.8 135.1,270.8" fill="#5e0a10" stroke="#3a3020" stroke-width="0.5" stroke-linejoin="round"/>
<polygon points="66.9,270.8 92.9,270.8 86.8,309.3 53.1,309.3" fill="#a5592a" stroke="#3a3020" stroke-width="0.5" stroke-linejoin="round"/>
<polygon points="92.9,270.8 113.4,270.8 113.4,309.3 86.8,309.3" fill="#f3ee87" stroke="#3a3020" stroke-width="0.5" stroke-linejoin="round"/>
<polygon points="113.4,270.8 135.1,270.8 141.5,309.3 113.4,309.3" fill="#dcc25f" stroke="#3a3020" stroke-width="0.5" stroke-linejoin="round"/>
<polygon points="135.1,270.8 162.1,270.8 176.6,309.3 141.5,309.3" fill="#5e0a10" stroke="#3a3020" stroke-width="0.5" stroke-linejoin="round"/>
<polygon points="53.1,309.3 86.8,309.3 78.5,362.0 34.1,362.0" fill="#f3ee87" stroke="#3a3020" stroke-width="0.5" stroke-linejoin="round"/>
<polygon points="86.8,309.3 113.4,309.3 113.4,362.0 78.5,362.0" fill="#f3ee87" stroke="#3a3020" stroke-width="0.5" stroke-linejoin="round"/>
<polygon points="113.4,309.3 141.5,309.3 150.4,362.0 113.4,362.0" fill="#f3ee87" stroke="#3a3020" stroke-width="0.5" stroke-linejoin="round"/>
<polygon points="141.5,309.3 176.6,309.3 196.5,362.0 150.4,362.0" fill="#5e0a10" stroke="#3a3020" stroke-width="0.5" stroke-linejoin="round"/>
<text class="n" x="94.6" y="213.6" font-size="7.9" fill="#fff" text-anchor="middle">6</text>
<text class="n" x="107.1" y="213.6" font-size="7.9" fill="#000" text-anchor="middle">1</text>
<text class="n" x="118.3" y="213.6" font-size="7.9" fill="#000" text-anchor="middle">1</text>
<text class="n" x="130.8" y="213.6" font-size="7.9" fill="#fff" text-anchor="middle">7</text>
<text class="n" x="85.4" y="253.3" font-size="7.9" fill="#fff" text-anchor="middle">5</text>
<text class="n" x="102.7" y="253.3" font-size="7.9" fill="#000" text-anchor="middle">1</text>
<text class="n" x="122.1" y="253.3" font-size="7.9" fill="#000" text-anchor="middle">1</text>
<text class="n" x="139.9" y="253.3" font-size="7.9" fill="#fff" text-anchor="middle">8</text>
<text class="n" x="72.1" y="293.2" font-size="7.9" fill="#000" text-anchor="middle">4</text>
<text class="n" x="100" y="293.2" font-size="7.9" fill="#000" text-anchor="middle">1</text>
<text class="n" x="125.5" y="293.2" font-size="7.9" fill="#000" text-anchor="middle">2</text>
<text class="n" x="151.1" y="293.2" font-size="7.9" fill="#fff" text-anchor="middle">9</text>
<text class="n" x="61.5" y="341.2" font-size="7.9" fill="#000" text-anchor="middle">1</text>
<text class="n" x="95.6" y="341.2" font-size="7.9" fill="#000" text-anchor="middle">1</text>
<text class="n" x="128.3" y="341.2" font-size="7.9" fill="#000" text-anchor="middle">1</text>
<text class="n" x="162" y="341.2" font-size="7.9" fill="#fff" text-anchor="middle">6</text>
<line x1="136.9" y1="136.3" x2="160" y2="166.7" stroke="#555" stroke-width="0.45"/>
<polygon points="162.2,169.6 152.3,157.2 149.8,160" fill="#000"/>
<text class="n" x="167.8" y="181.5" font-size="8.8" fill="#111" text-anchor="middle">N</text>
</g>
<text x="492" y="149.4" font-size="7.95" font-weight="bold" fill="#000" textLength="39.3" lengthAdjust="spacingAndGlyphs">1934-2020</text>
<text class="n" x="201.7" y="264.7" font-size="8.7" fill="#111" textLength="50.3" lengthAdjust="spacingAndGlyphs">Nb of events</text>
<rect x="199.9" y="277.90" width="10" height="11.30" fill="#5e0a10"/>
<rect x="199.9" y="289.15" width="10" height="11.30" fill="#7f2318"/>
<rect x="199.9" y="300.40" width="10" height="11.30" fill="#a5592a"/>
<rect x="199.9" y="311.65" width="10" height="11.30" fill="#bf8840"/>
<rect x="199.9" y="322.90" width="10" height="11.30" fill="#dcc25f"/>
<rect x="199.9" y="334.15" width="10" height="11.30" fill="#f3ee87"/>
<rect x="199.9" y="345.40" width="10" height="11.30" fill="#ffffff"/>
<rect x="199.9" y="277.90" width="10" height="78.75" fill="none" stroke="#666" stroke-width="0.4"/>
<text class="n" x="213.3" y="280.4" font-size="8.2" fill="#111">10</text>
<text class="n" x="213.3" y="292.0" font-size="8.2" fill="#111">7</text>
<text class="n" x="213.3" y="304.5" font-size="8.2" fill="#111">5</text>
<text class="n" x="213.3" y="314.2" font-size="8.2" fill="#111">4</text>
<text class="n" x="213.3" y="326.8" font-size="8.2" fill="#111">3</text>
<text class="n" x="213.3" y="336.6" font-size="8.2" fill="#111">2</text>
<text class="n" x="213.3" y="347.8" font-size="8.2" fill="#111">1</text>
<text class="n" x="213.3" y="358.4" font-size="8.2" fill="#111">0</text>
</svg></body></html>
